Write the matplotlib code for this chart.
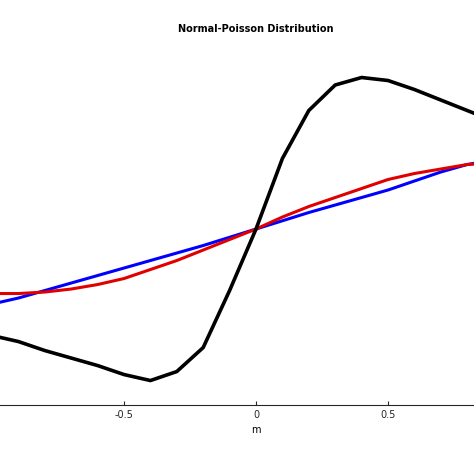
import matplotlib
matplotlib.use("Agg")
import matplotlib.pyplot as plt

x = [-1.0, -0.9, -0.8, -0.7, -0.6, -0.5, -0.4, -0.3, -0.2, -0.1, 0.0, 0.1, 0.2, 0.3, 0.4, 0.5, 0.6, 0.7, 0.8, 0.9, 1.0]
black = [-0.71, -0.75, -0.81, -0.86, -0.91, -0.97, -1.01, -0.95, -0.79, -0.41, 0.0, 0.47, 0.79, 0.96, 1.01, 0.99, 0.93, 0.86, 0.79, 0.72, 0.68]
red = [-0.43, -0.43, -0.42, -0.40, -0.37, -0.33, -0.27, -0.21, -0.14, -0.07, 0.0, 0.08, 0.15, 0.21, 0.27, 0.33, 0.37, 0.40, 0.43, 0.44, 0.44]
blue = [-0.50, -0.46, -0.41, -0.36, -0.31, -0.26, -0.21, -0.16, -0.11, -0.055, 0.0, 0.055, 0.11, 0.16, 0.21, 0.26, 0.32, 0.38, 0.43, 0.46, 0.48]
xticks = [-0.5, 0, 0.5]
xticklabels = ["-0.5", "0", "0.5"]

fig = plt.figure(figsize=(4.74, 4.74), dpi=100)
ax = fig.add_axes([-8/474, 69/474, 528/474, 365/474])
ax.plot(x, blue, color="#0000ff", lw=2.2)
ax.plot(x, red, color="#e00000", lw=2.2)
ax.plot(x, black, color="black", lw=2.6)
ax.set_xlim(-1, 1)
ax.set_ylim(-1.173, 1.26)
ax.set_xticks(xticks)
ax.set_xticklabels(xticklabels, fontsize=7)
ax.set_yticks([])
ax.tick_params(direction="in", length=3, colors="#262626")
for s in ["top", "right", "left"]:
    ax.spines[s].set_visible(False)
ax.spines["bottom"].set_color("#262626")
ax.set_xlabel("m", fontsize=7, labelpad=4)
fig.text(256/474, 1 - 29/474, "Normal-Poisson Distribution", ha="center", va="center", fontsize=7, fontweight="bold")
fig.savefig("out.png", dpi=100)
